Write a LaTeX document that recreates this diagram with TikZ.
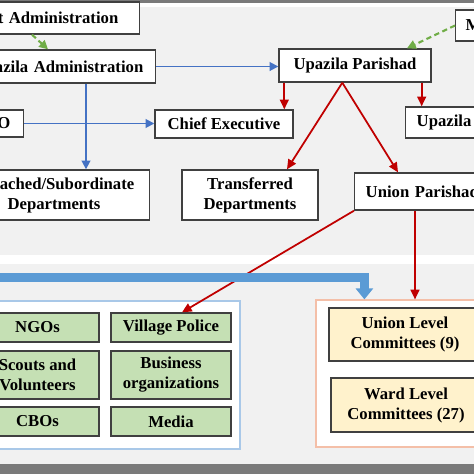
\documentclass[tikz,border=0pt]{standalone}
\usepackage{fontspec}
\setmainfont{Liberation Serif}
\usepackage{tikz}
\usetikzlibrary{arrows.meta,calc,positioning}

\definecolor{bggray}{HTML}{F1F1F1}
\definecolor{bargray}{HTML}{7A7A7A}
\definecolor{boxline}{HTML}{404040}
\definecolor{grline}{HTML}{70AD47}
\definecolor{blline}{HTML}{4472C4}
\definecolor{bigblue}{HTML}{5B9BD5}
\definecolor{rdline}{HTML}{C00000}
\definecolor{grfill}{HTML}{C5E0B4}
\definecolor{yefill}{HTML}{FFF2CC}
\definecolor{lpline}{HTML}{A9C8E8}
\definecolor{rpline}{HTML}{F4BFA8}

\begin{document}
\begin{tikzpicture}[x=0.02cm, y=-0.02cm,
    box/.style={draw=boxline, line width=0.8pt, fill=white, inner sep=0pt, align=center,
        font=\bfseries\fontsize{9.5}{11.4}\selectfont},
    gbox/.style={box, fill=grfill},
    ybox/.style={box, fill=yefill},
    panel/.style={line width=0.7pt, fill=white},
    blarr/.style={draw=blline, line width=1pt, -{Triangle[width=5pt,length=5pt]}},
    rdarr/.style={draw=rdline, line width=1pt, -{Triangle[width=5pt,length=5.5pt]}},
    grarr/.style={draw=grline, line width=1.2pt, dash pattern=on 3pt off 2pt, -{Triangle[width=5pt,length=5pt]}},
    bigarr/.style={draw=bigblue, line width=0.18cm, -{Triangle[width=0.34cm,length=0.22cm]}}]

    % Rahmen
        \useasboundingbox (0,0) rectangle (474,474);
        \clip (0,0) rectangle (474,474);
        \fill[bggray] (0,0) rectangle (474,474);
        \fill[white] (0,3) rectangle (474,7);
        \fill[bargray] (0,0) rectangle (474,3);
        \fill[white] (0,255) rectangle (474,264);
        \fill[bargray] (0,464) rectangle (474,474);

    % Upazila-Ebene
        \node[box, anchor=east, inner xsep=0.42cm, text width=2.56cm, minimum height=0.64cm, align=right] (distadm) at (140,18) {t Administration};
        \node[box, anchor=east, inner xsep=0.24cm, text width=3.04cm, minimum height=0.66cm, align=right] (upadm) at (156,66.5) {azila Administration};
        \node[box, anchor=east, inner xsep=0.26cm, text width=0.36cm, minimum height=0.54cm, align=right] (uno) at (24,123.5) {O};
        \node[box, minimum width=2.76cm, minimum height=0.56cm] (chief) at (224,124) {Chief Executive};
        \node[box, anchor=east, inner xsep=0.3cm, text width=3.2cm, minimum height=1cm, align=right] (attached) at (150,195) {ached/Subordinate\\\mbox{Departments\hspace{0.68cm}}};
        \node[box, minimum width=3.04cm, minimum height=0.66cm] (upar) at (355,65.5) {Upazila Parishad};
        \node[box, anchor=west, inner xsep=0.2cm, text width=0.4cm, minimum height=0.62cm, align=left] (ministry) at (455,25.5) {M};
        \node[box, anchor=west, inner xsep=0.22cm, text width=1.34cm, minimum height=0.62cm, align=left] (upz) at (405,122.5) {Upazila};
        \node[box, minimum width=2.72cm, minimum height=1cm] (transf) at (250,195) {Transferred\\Departments};
        \node[box, anchor=west, inner xsep=0.22cm, text width=2.36cm, minimum height=0.74cm, align=left] (unionp) at (354,191.5) {Union Parishad};

    % Union-Ebene
        \node[panel, draw=lpline, minimum width=5cm, minimum height=2.96cm] (lpanel) at (115,375) {};
        \node[panel, draw=rpline, minimum width=3.56cm, minimum height=2.94cm] (rpanel) at (405,373.5) {};
        \node[gbox, minimum width=2.46cm, minimum height=0.58cm] (ngo) at (37.5,327.5) {NGOs};
        \node[gbox, minimum width=2.4cm, minimum height=0.58cm] (village) at (171,327.5) {Village Police};
        \node[gbox, minimum width=2.46cm, minimum height=0.96cm] (scouts) at (37.5,375) {Scouts and\\Volunteers};
        \node[gbox, minimum width=2.4cm, minimum height=0.96cm] (business) at (171,375) {Business\\organizations};
        \node[gbox, minimum width=2.46cm, minimum height=0.58cm] (cbo) at (37.5,421.5) {CBOs};
        \node[gbox, minimum width=2.4cm, minimum height=0.58cm] (media) at (171,421.5) {Media};
        \node[ybox, minimum width=3.04cm, minimum height=1.06cm] (unionlc) at (405,334.5) {Union Level\\Committees (9)};
        \node[ybox, minimum width=3cm, minimum height=1.08cm] (wardlc) at (406,405) {Ward Level\\Committees (27)};

    % Hilfspunkte
        \coordinate (admdown) at ($(upadm.south east)+(-70,0)$);
        \coordinate (parleft) at ($(upar.south west)+(6,0)$);
        \coordinate (parright) at ($(upar.south east)+(-10,0)$);
        \coordinate (parmid) at ($(upar.south west)+(64,0)$);
        \coordinate (unidown) at ($(unionp.south west)+(61,0)$);
        \coordinate (bandstart) at (-5,277.5);
        \coordinate (bandend) at ($(rpanel.north west)+(49,0)$);

    % Verbindungen
        \draw[grarr] ($(distadm.south east)+(-108,0)$) -- ($(upadm.north east)+(-108,0)$);
        \draw[grarr] (ministry.west) -- ($(upar.north)+(52,0)$);
        \draw[blarr] (upadm.east) -- (upadm.east -| upar.west);
        \draw[blarr] (admdown) -- (admdown |- attached.north);
        \draw[blarr] (uno.east) -- (uno.east -| chief.west);
        \draw[rdarr] (parleft) -- (parleft |- chief.north);
        \draw[rdarr] (parright) -- (parright |- upz.north);
        \draw[rdarr] (parmid) -- ($(transf.north)+(37,0)$);
        \draw[rdarr] (parmid) -- ($(unionp.north west)+(44,0)$);
        \draw[rdarr] (unionp.south west) -- ($(village.north)+(11,0)$);
        \draw[rdarr] (unidown) -- (unidown |- rpanel.north);
        \draw[bigarr] (bandstart) -| (bandend);
\end{tikzpicture}
\end{document}
